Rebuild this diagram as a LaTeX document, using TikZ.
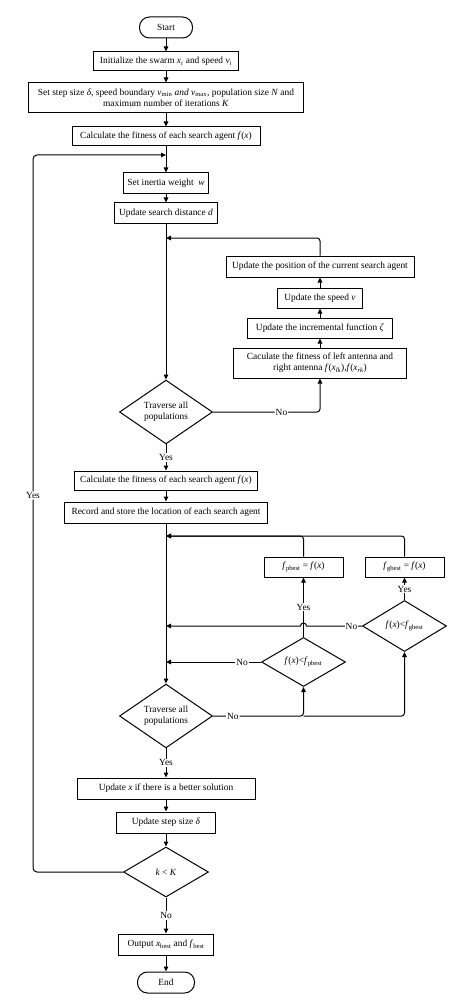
\documentclass[tikz,border=0pt]{standalone}
\usepackage{fontspec}
\setmainfont{Liberation Serif}
\usetikzlibrary{shapes.geometric,arrows.meta}
\newcommand{\vv}[1]{\textit{#1}}
\newcommand{\lo}[1]{\textsubscript{#1}}
\tikzset{
  base/.style={draw, line width=1pt, inner sep=0pt, align=center, font=\fontsize{9.4}{11}\selectfont},
  box/.style={base, rectangle},
  term/.style={base, rectangle, rounded corners=10pt},
  dia/.style={base, diamond},
  arr/.style={line width=1pt, -{Triangle[length=5pt,width=4.5pt]}},
  lbl/.style={fill=white, inner sep=1pt, font=\fontsize{9.4}{11}\selectfont},
}
\begin{document}
\begin{tikzpicture}[x=1pt,y=-1pt]
\useasboundingbox (0,0) rectangle (474,1008);
% main column
\node[term, minimum width=53pt, minimum height=21pt] (start) at (166,27.5) {Start};
\node[box, minimum width=145pt, minimum height=19pt] (init) at (166,61.5) {Initialize the swarm \vv{x\lo{i}} and speed \vv{v\lo{i}}};
\node[box, minimum width=275pt, minimum height=30pt] (setp) at (166,98) {Set step size \vv{δ}, speed boundary \vv{v}\lo{min} \vv{and} \vv{v}\lo{max}, population size \vv{N} and\\maximum number of iterations \vv{K}};
\node[box, minimum width=188pt, minimum height=19pt] (calc1) at (166,136.5) {Calculate the fitness of each search agent \vv{f}(\vv{x})};
\node[box, minimum width=85pt, minimum height=21pt] (inert) at (166,183.5) {Set inertia weight \ \vv{w}};
\node[box, minimum width=103pt, minimum height=21pt] (dist) at (166,213.5) {Update search distance \vv{d}};
\node[box, minimum width=188pt, minimum height=21pt] (pos) at (320,266.5) {Update the position of the current search agent};
\node[box, minimum width=85pt, minimum height=20pt] (speed) at (320,298) {Update the speed \vv{v}};
\node[box, minimum width=145pt, minimum height=20pt] (incr) at (320,328) {Update the incremental function \vv{ζ}};
\node[box, minimum width=173pt, minimum height=30pt] (cfit) at (320,363) {Caculate the fitness of left antenna and\\right antenna \vv{f}(\vv{x}\lo{\vv{lk}}),\vv{f}(\vv{x}\lo{\vv{rk}})};
\node[dia, minimum width=93pt, minimum height=50pt] (d1) at (166,412) {Traverse all\\populations};
\node[box, minimum width=183pt, minimum height=19pt] (calc2) at (166,480.5) {Calculate the fitness of each search agent \vv{f}(\vv{x})};
\node[box, minimum width=203pt, minimum height=21pt] (rec) at (166,512.5) {Record and store the location of each search agent};
\node[box, minimum width=79pt, minimum height=20pt] (fpb) at (303.5,567) {\vv{f}\lo{pbest} = \vv{f}(\vv{x})};
\node[box, minimum width=79pt, minimum height=20pt] (fgb) at (404.5,567) {\vv{f}\lo{gbest} = \vv{f}(\vv{x})};
\node[dia, minimum width=84pt, minimum height=51pt] (dg) at (404.5,626) {\vv{f}(\vv{x})<\vv{f}\lo{gbest}};
\node[dia, minimum width=84pt, minimum height=49pt] (dp) at (303.5,662) {\vv{f}(\vv{x})<\vv{f}\lo{pbest}};
\node[dia, minimum width=93pt, minimum height=50pt] (d2) at (166,716) {Traverse all\\populations};
\node[box, minimum width=178pt, minimum height=21pt] (updx) at (166,788.5) {Update \vv{x} if there is a better solution};
\node[box, minimum width=99pt, minimum height=21pt] (ustep) at (166,822.5) {Update step size \vv{δ}};
\node[dia, minimum width=85pt, minimum height=50pt] (dk) at (166,872) {\vv{k} < \vv{K}};
\node[box, minimum width=95pt, minimum height=21pt] (out) at (166,944.5) {Output \vv{x}\lo{best} and \vv{f}\lo{best}};
\node[term, minimum width=57pt, minimum height=21pt] (end) at (166,982.5) {End};
% junction coordinates
\coordinate (j0) at (166,155);
\coordinate (j1) at (166,238);
\coordinate (j2) at (166,536);
\coordinate (jp) at (166,662);
\coordinate (jg) at (166,626);
\coordinate (bA) at (306.5,626);
\coordinate (lc1) at (33,872);
\coordinate (lc2) at (33,155);
\coordinate (nx) at (303.5,716);
% connectors
\draw[arr] (start) -- (init);
\draw[arr] (init) -- (setp);
\draw[arr] (setp) -- (calc1);
\draw[arr] (calc1) -- (inert);
\draw[arr] (inert) -- (dist);
\draw[arr] (dist) -- (d1);
\draw[arr] (cfit) -- (incr);
\draw[arr] (incr) -- (speed);
\draw[arr] (speed) -- (pos);
\draw[arr, rounded corners=3pt] (pos.north) |- (j1);
\draw[arr, rounded corners=3pt] (d1.east) -| node[lbl, pos=0.32] {No} (cfit.south);
\draw[arr] (d1) -- node[lbl, pos=0.5] {Yes} (calc2);
\draw[arr] (calc2) -- (rec);
\draw[arr] (rec) -- (d2);
\draw[arr, rounded corners=3pt] (fpb.north) |- (j2);
\draw[arr, rounded corners=3pt] (fgb.north) |- (j2);
\draw[arr] (dp) -- node[lbl, pos=0.5] {Yes} (fpb);
\draw[arr] (dg) -- node[lbl, pos=0.49] {Yes} (fgb);
\draw[arr] (dp.west) -- node[lbl, pos=0.2] {No} (jp);
\draw[arr] (dg.west) -- node[lbl, pos=0.19] {No} (bA) arc[start angle=0, end angle=180, radius=3pt] -- (jg);
\draw[arr, rounded corners=3pt] (d2.east) -| node[lbl, pos=0.11] {No} (dp.south);
\draw[arr, rounded corners=3pt] (nx) -| (dg.south);
\draw[arr] (d2) -- node[lbl, pos=0.5] {Yes} (updx);
\draw[arr] (updx) -- (ustep);
\draw[arr] (ustep) -- (dk);
\draw[arr, rounded corners=4pt] (dk.west) -- (lc1) -- node[lbl, pos=0.525] {Yes} (lc2) -- (j0);
\draw[arr] (dk) -- node[lbl, pos=0.5] {No} (out);
\draw[arr] (out) -- (end);
\end{tikzpicture}
\end{document}
